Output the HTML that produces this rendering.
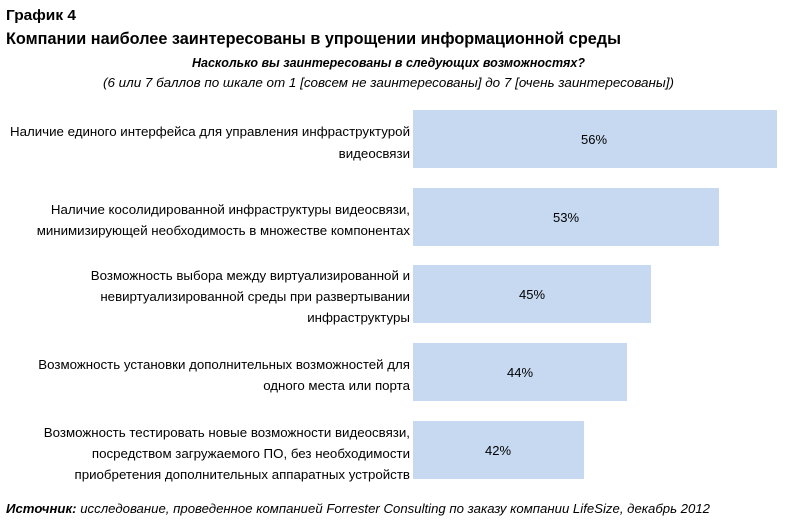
<!DOCTYPE html>
<html><head><meta charset="utf-8"><style>
html,body{margin:0;padding:0;background:#fff;}
svg{display:block;font-family:"Liberation Sans","DejaVu Sans",sans-serif;}
</style></head><body>
<svg width="800" height="528" viewBox="0 0 800 528" xmlns="http://www.w3.org/2000/svg">
<g fill="#000">
<text x="6" y="20" font-size="15" font-weight="bold" textLength="70" lengthAdjust="spacingAndGlyphs">График 4</text>
<text x="6" y="44" font-size="17" font-weight="bold" textLength="615" lengthAdjust="spacingAndGlyphs">Компании наиболее заинтересованы в упрощении информационной среды</text>
<text x="192" y="67" font-size="13" font-style="italic" font-weight="bold" textLength="393" lengthAdjust="spacingAndGlyphs">Насколько вы заинтересованы в следующих возможностях?</text>
<text x="103" y="87" font-size="13" font-style="italic" textLength="571" lengthAdjust="spacingAndGlyphs">(6 или 7 баллов по шкале от 1 [совсем не заинтересованы] до 7 [очень заинтересованы])</text>
</g>
<g fill="#c6d9f0">
<rect x="413" y="110" width="364" height="58"/>
<rect x="413" y="188" width="306" height="58"/>
<rect x="413" y="265" width="238" height="58"/>
<rect x="413" y="343" width="214" height="58"/>
<rect x="413" y="421" width="171" height="58"/>
</g>
<g fill="#000" font-size="13" text-anchor="middle">
<text x="594" y="144">56%</text>
<text x="566" y="222">53%</text>
<text x="532" y="299">45%</text>
<text x="520" y="377">44%</text>
<text x="498" y="455">42%</text>
</g>
<g fill="#000" font-size="13.3" text-anchor="end">
<text x="410" y="136">Наличие единого интерфейса для управления инфраструктурой</text>
<text x="410" y="158">видеосвязи</text>
<text x="410" y="214">Наличие косолидированной инфраструктуры видеосвязи,</text>
<text x="410" y="235">минимизирующей необходимость в множестве компонентах</text>
<text x="410" y="280">Возможность выбора между виртуализированной и</text>
<text x="410" y="301">невиртуализированной среды при развертывании</text>
<text x="410" y="322">инфраструктуры</text>
<text x="410" y="369">Возможность установки дополнительных возможностей для</text>
<text x="410" y="390">одного места или порта</text>
<text x="410" y="437">Возможность тестировать новые возможности видеосвязи,</text>
<text x="410" y="458">посредством загружаемого ПО, без необходимости</text>
<text x="410" y="479">приобретения дополнительных аппаратных устройств</text>
</g>
<text x="6" y="513" font-size="13" font-style="italic" textLength="704" lengthAdjust="spacingAndGlyphs"><tspan font-weight="bold">Источник:</tspan> исследование, проведенное компанией Forrester Consulting по заказу компании LifeSize, декабрь 2012</text>
</svg>
</body></html>
